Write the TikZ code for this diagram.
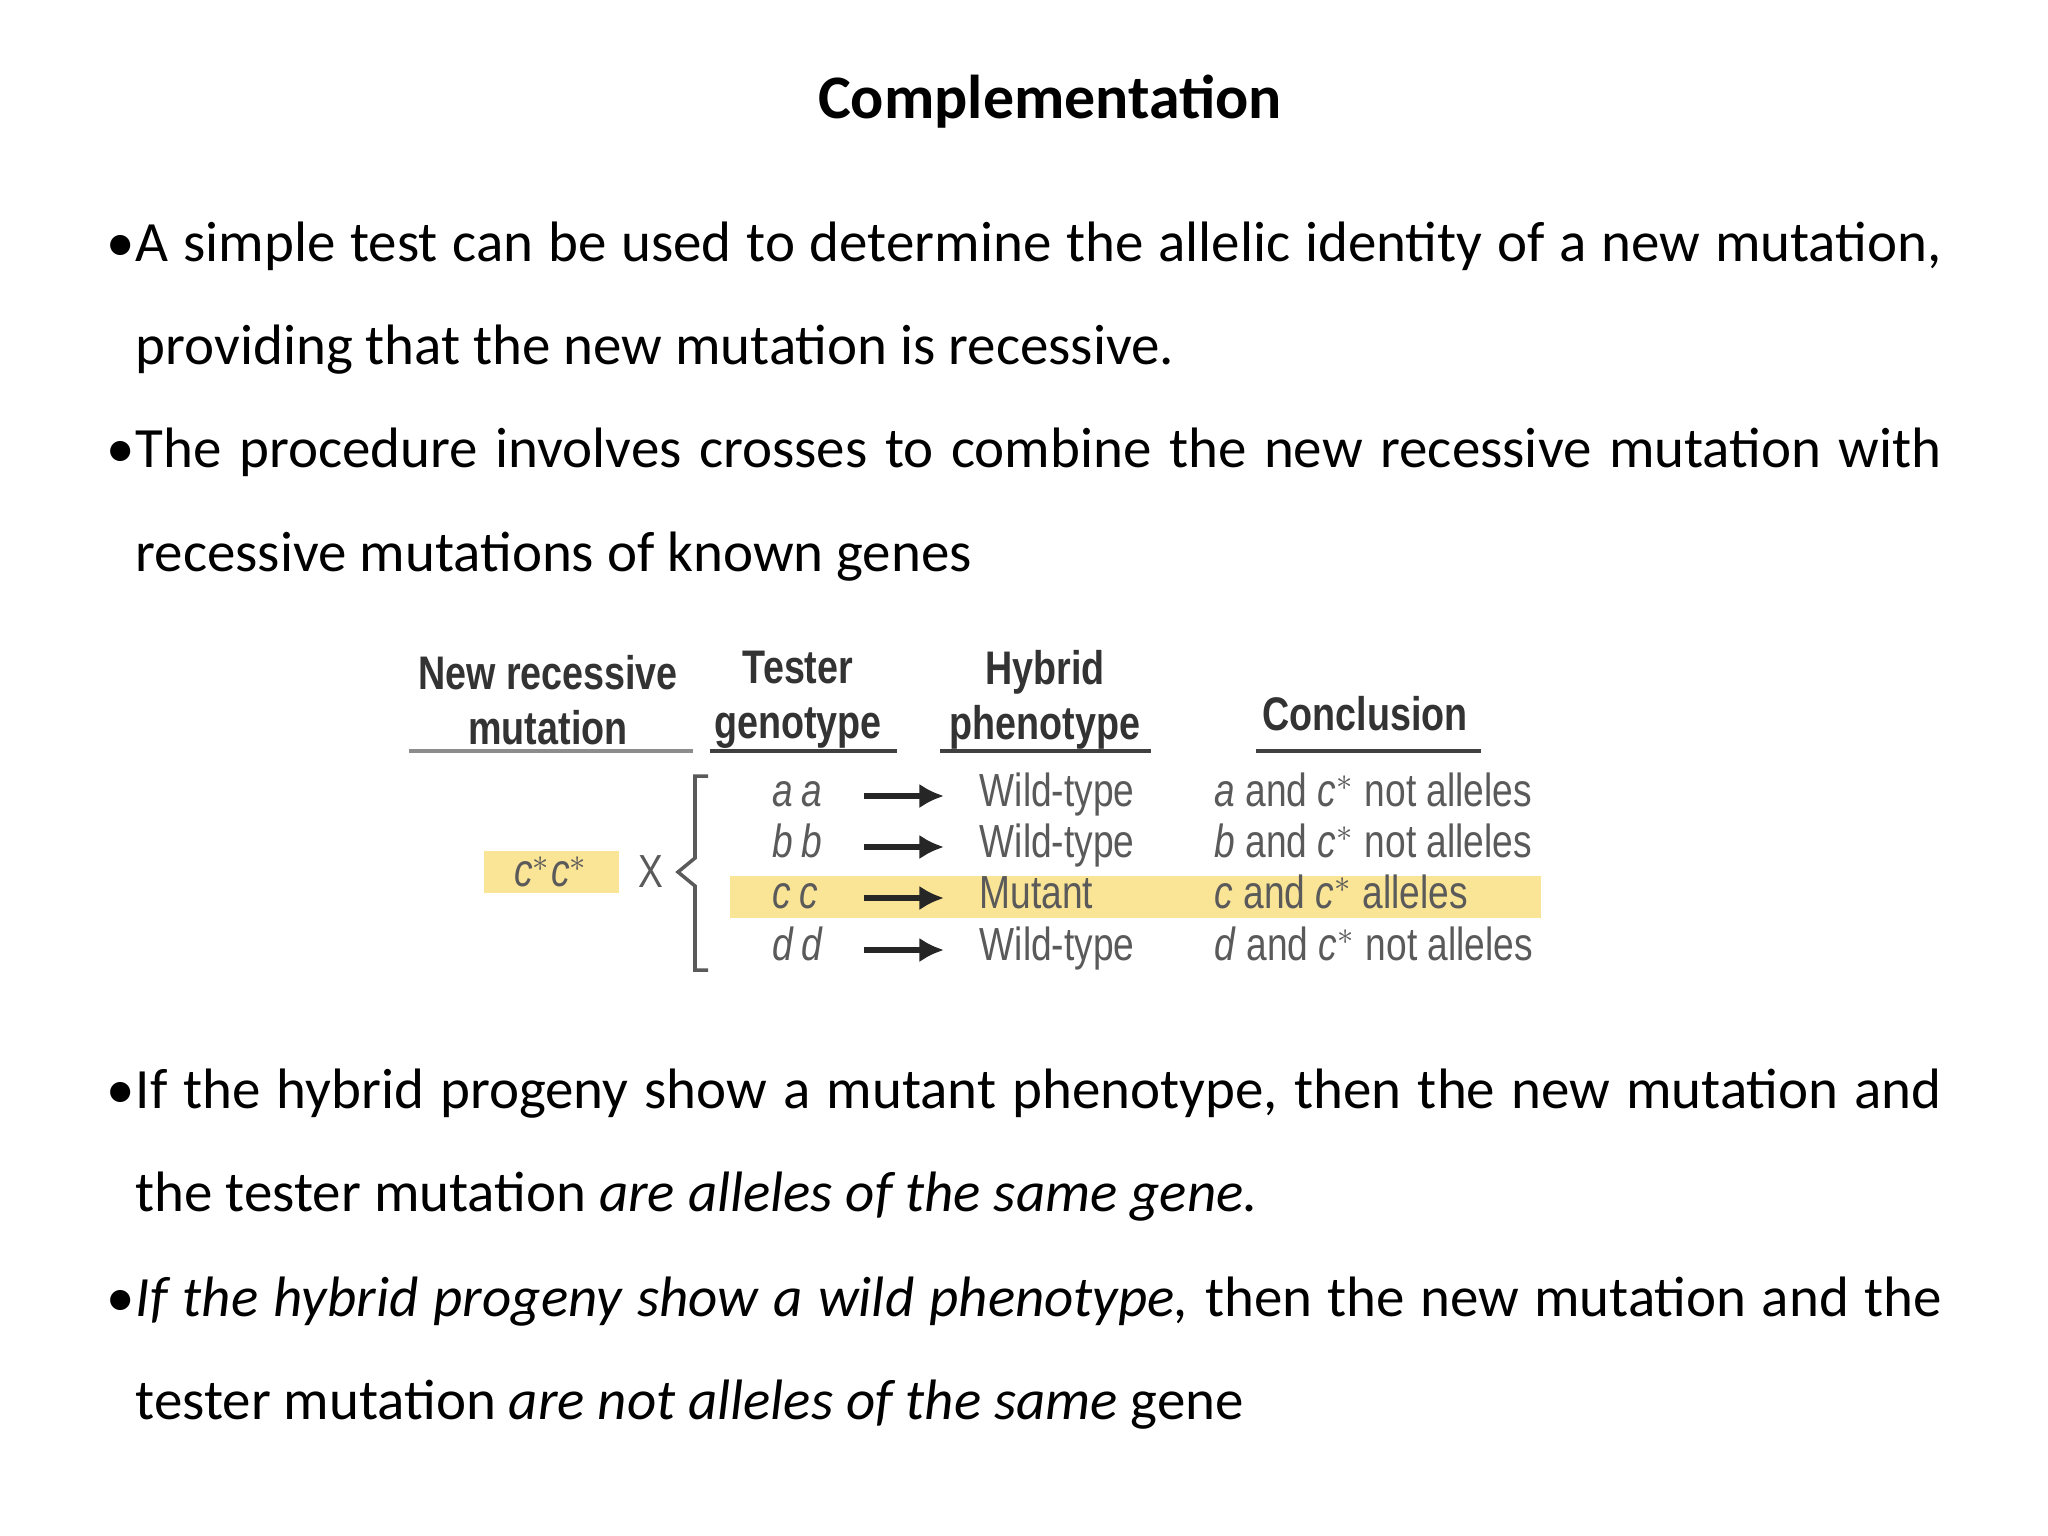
\documentclass[tikz,border=0pt]{standalone}
\usepackage{fontspec}
\setmainfont{Carlito}
\newfontfamily\narrowfont[FakeStretch=0.8]{Liberation Sans}
\usetikzlibrary{arrows.meta}
\definecolor{hl}{RGB}{250,228,150}
\definecolor{tg}{RGB}{90,90,90}
\tikzset{
 body/.style={anchor=base west,inner sep=0pt,font=\fontsize{16.2}{19}\selectfont},
 jline/.style={body,text width=18.05cm,align=justify},
 bul/.style={anchor=base west,inner sep=0pt,font=\fontsize{16.2}{19}\selectfont},
 hdr/.style={inner sep=0pt,align=center,font=\narrowfont\bfseries\fontsize{13.4}{15.5}\selectfont,text=black!80},
 cell/.style={inner sep=0pt,anchor=base west,font=\narrowfont\fontsize{13.2}{15}\selectfont,text=tg},
 ul/.style={line width=1.3pt,black!75},
 arr/.style={-{Latex[length=7pt,width=7pt]},line width=1.6pt,black!85}
}
\newcommand{\J}[1]{{\parfillskip=0pt #1\par}}
\begin{document}
\begin{tikzpicture}[x=0.01cm,y=-0.01cm]
\useasboundingbox[fill=white] (0,0) rectangle (2048,1536);
\node[inner sep=0pt,font=\bfseries\fontsize{17.6}{20}\selectfont] (title) at (1050,102) {Complementation};
% bullets
\node[bul] (b1) at (106,261) {•};
\node[jline] (l1) at (135,261) {\J{A simple test can be used to determine the allelic identity of a new mutation,}};
\node[body] (l2) at (135,364) {providing that the new mutation is recessive.};
\node[bul] (b2) at (106,467) {•};
\node[jline] (l3) at (135,467) {\J{The procedure involves crosses to combine the new recessive mutation with}};
\node[body] (l4) at (135,571) {recessive mutations of known genes};
\node[bul] (b3) at (106,1108) {•};
\node[jline] (l5) at (135,1108) {\J{If the hybrid progeny show a mutant phenotype, then the new mutation and}};
\node[body] (l6) at (135,1211) {the tester mutation \textit{are alleles of the same gene.}};
\node[bul] (b4) at (106,1316) {•};
\node[jline] (l7) at (135,1316) {\J{\textit{If the hybrid progeny show a wild phenotype,} then the new mutation and the}};
\node[body] (l8) at (135,1419) {tester mutation \textit{are not alleles of the same} gene};
% table
\fill[hl] (730,876) rectangle (1541,918);
\fill[hl] (484,851) rectangle (619,893);
\node[hdr] (h1) at (548,700) {New recessive\\mutation};
\node[hdr] (h2) at (798,700) {Tester\\genotype};
\node[hdr] (h3) at (1045,700) {Hybrid\\phenotype};
\node[hdr] (h4) at (1365,714) {Conclusion};
\draw[ul,black!45] (409,751) -- (693,751);
\draw[ul] (710,751) -- (897,751);
\draw[ul] (940,751) -- (1151,751);
\draw[ul] (1256,751) -- (1481,751);
\node[cell,anchor=center] (cc) at (551,872) {\textit{c}$^*$\textit{c}$^*$};
\node[cell,anchor=center] (x) at (651,872) {X};
\draw[tg,line width=1pt] (708,776) -- (695,776) -- (695,858) -- (678,872) -- (695,886) -- (695,970) -- (708,970);
\foreach \y/\g/\p/\c [count=\i] in {806/a/Wild-type/{\textit{a} and \textit{c}$^*$ not alleles},
  857/b/Wild-type/{\textit{b} and \textit{c}$^*$ not alleles},
  908/c/Mutant/{\textit{c} and \textit{c}$^*$ alleles},
  960/d/Wild-type/{\textit{d} and \textit{c}$^*$ not alleles}}{
  \node[cell] (g\i) at (772,\y) {\textit{\g\,\g}};
  \coordinate (as\i) at (864,\y-10);
  \coordinate (ae\i) at (944,\y-10);
  \draw[arr] (as\i) -- (ae\i);
  \node[cell] (p\i) at (979,\y) {\p};
  \node[cell] (c\i) at (1214,\y) {\c};
}
\end{tikzpicture}
\end{document}
